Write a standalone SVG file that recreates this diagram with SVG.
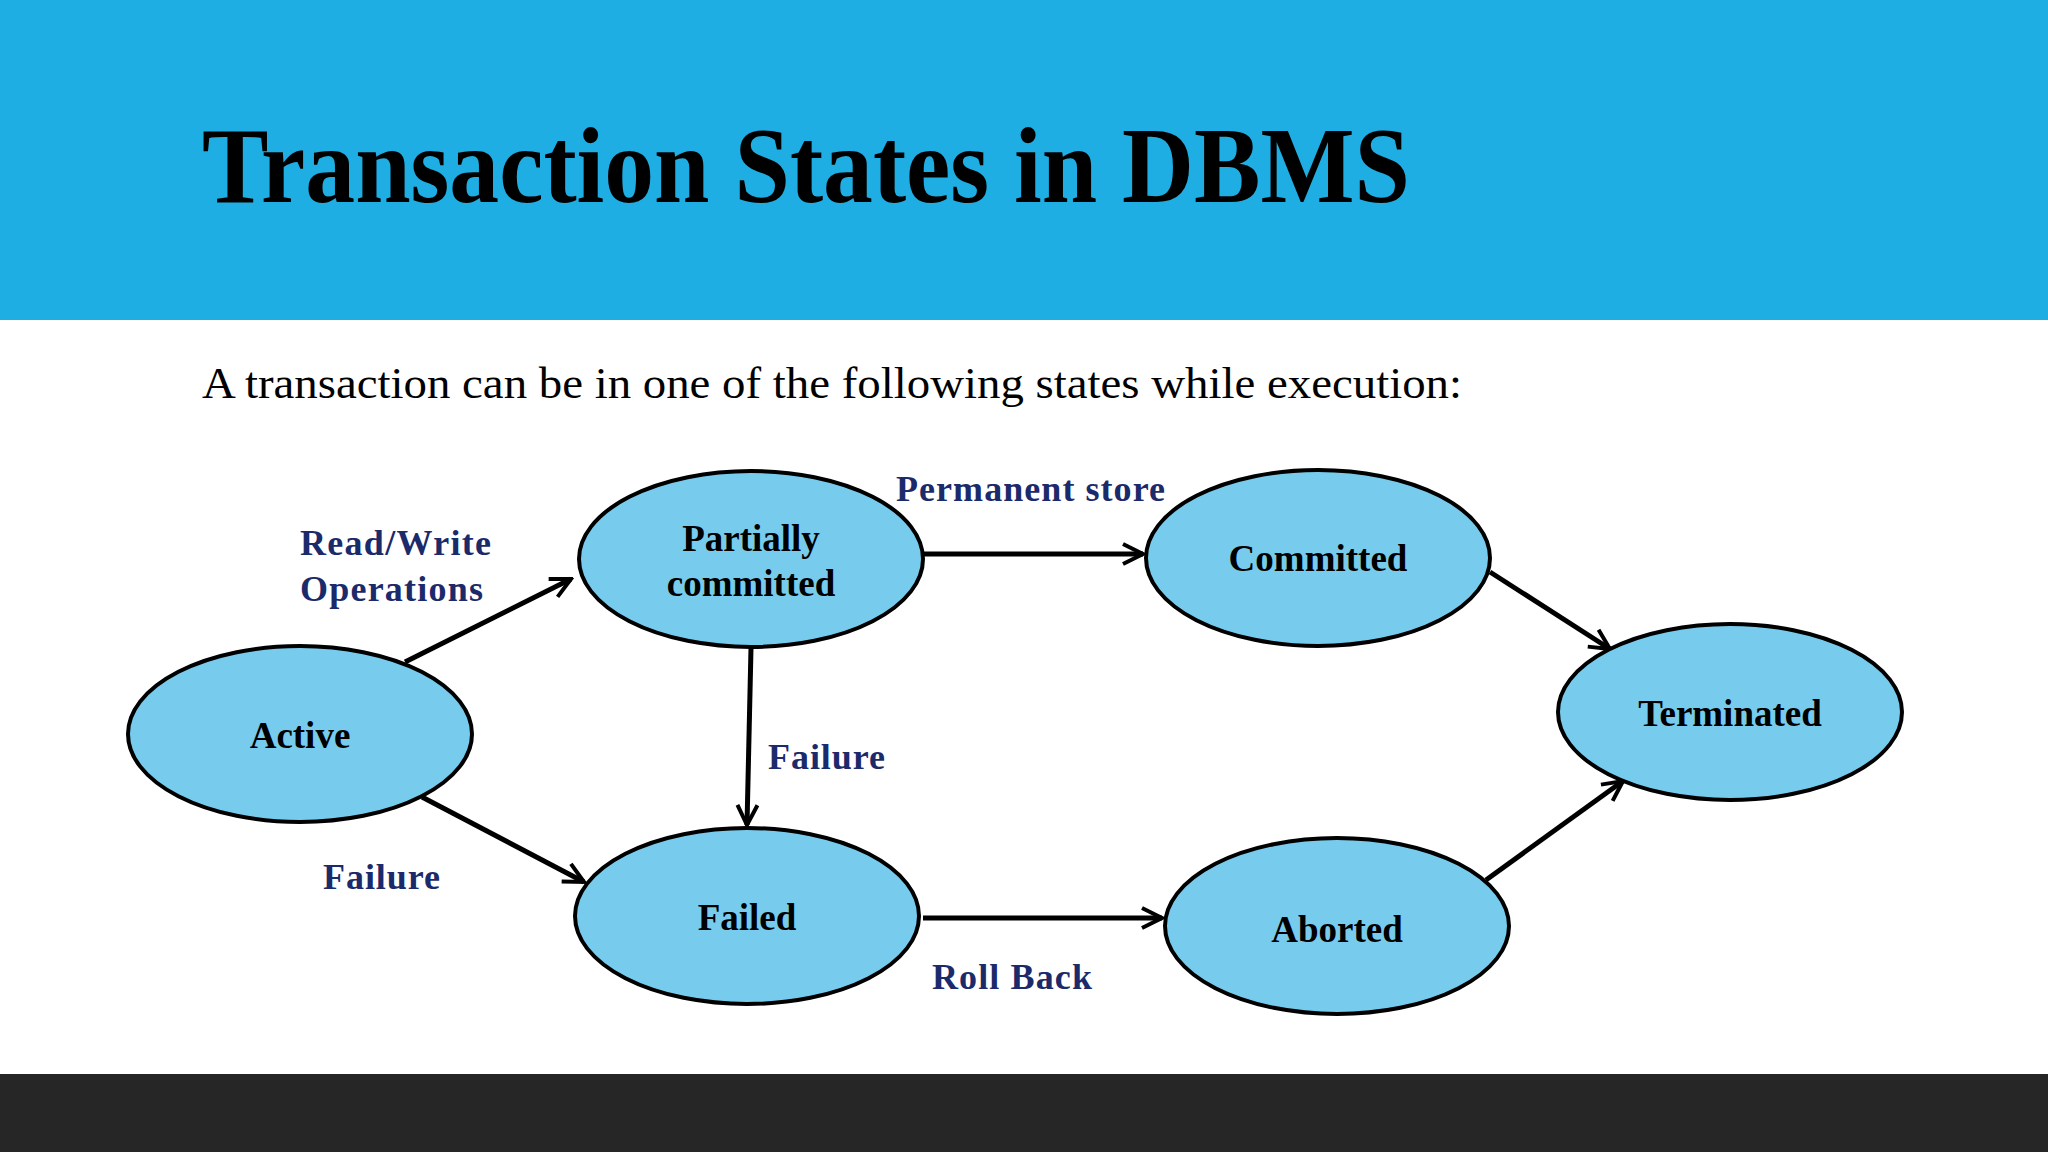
<svg xmlns="http://www.w3.org/2000/svg" width="2048" height="1152" viewBox="0 0 2048 1152">
<style>
.node{fill:#77CCEE;stroke:#000;stroke-width:4}
.nt{font-family:"Liberation Serif",serif;font-weight:bold;font-size:37px;fill:#000;text-anchor:middle}
.lb{font-family:"Liberation Serif",serif;font-weight:bold;font-size:36px;fill:#1B2A6B}
.c{stroke:#000;stroke-width:5;fill:none;marker-end:url(#ah)}
</style>
<defs>
<marker id="ah" viewBox="0 0 10 10" refX="9" refY="5" markerWidth="5" markerHeight="5" orient="auto" markerUnits="strokeWidth">
<path d="M1,1 L9,5 L1,9" fill="none" stroke="#000" stroke-width="1.6"/>
</marker>
</defs>
<rect width="2048" height="1152" fill="#fff"/>
<rect width="2048" height="320" fill="#1FAEE3"/>
<rect y="1074" width="2048" height="78" fill="#262626"/>
<text x="202" y="202" font-family="Liberation Serif,serif" font-weight="bold" font-size="108" textLength="1208" lengthAdjust="spacingAndGlyphs">Transaction States in DBMS</text>
<text x="202" y="398" font-family="Liberation Serif,serif" font-size="44" textLength="1260" lengthAdjust="spacingAndGlyphs">A transaction can be in one of the following states while execution:</text>
<g id="connectors">
<line class="c" x1="405" y1="662" x2="571" y2="579"/>
<line class="c" x1="422" y1="797" x2="584" y2="882"/>
<line class="c" x1="751" y1="648" x2="747" y2="825"/>
<line class="c" x1="923" y1="554" x2="1143" y2="554"/>
<line class="c" x1="1490" y1="572" x2="1610" y2="649"/>
<line class="c" x1="923" y1="918" x2="1162" y2="918"/>
<line class="c" x1="1486" y1="880" x2="1623" y2="781"/>
<text class="lb" x="300" y="555" textLength="191">Read/Write</text>
<text class="lb" x="300" y="601" textLength="183">Operations</text>
<text class="lb" x="896" y="501" textLength="269">Permanent store</text>
<text class="lb" x="768" y="769" textLength="117">Failure</text>
<text class="lb" x="323" y="889" textLength="117">Failure</text>
<text class="lb" x="932" y="989" textLength="160">Roll Back</text>
</g>
<g id="active"><ellipse class="node" cx="300" cy="734" rx="172" ry="88"/><text class="nt" x="300" y="748">Active</text></g>
<g id="partial"><ellipse class="node" cx="751" cy="559" rx="172" ry="88"/><text class="nt" x="751" y="551">Partially</text><text class="nt" x="751" y="596">committed</text></g>
<g id="committed"><ellipse class="node" cx="1318" cy="558" rx="172" ry="88"/><text class="nt" x="1318" y="571">Committed</text></g>
<g id="terminated"><ellipse class="node" cx="1730" cy="712" rx="172" ry="88"/><text class="nt" x="1730" y="726">Terminated</text></g>
<g id="failed"><ellipse class="node" cx="747" cy="916" rx="172" ry="88"/><text class="nt" x="747" y="930">Failed</text></g>
<g id="aborted"><ellipse class="node" cx="1337" cy="926" rx="172" ry="88"/><text class="nt" x="1337" y="942">Aborted</text></g>
</svg>
